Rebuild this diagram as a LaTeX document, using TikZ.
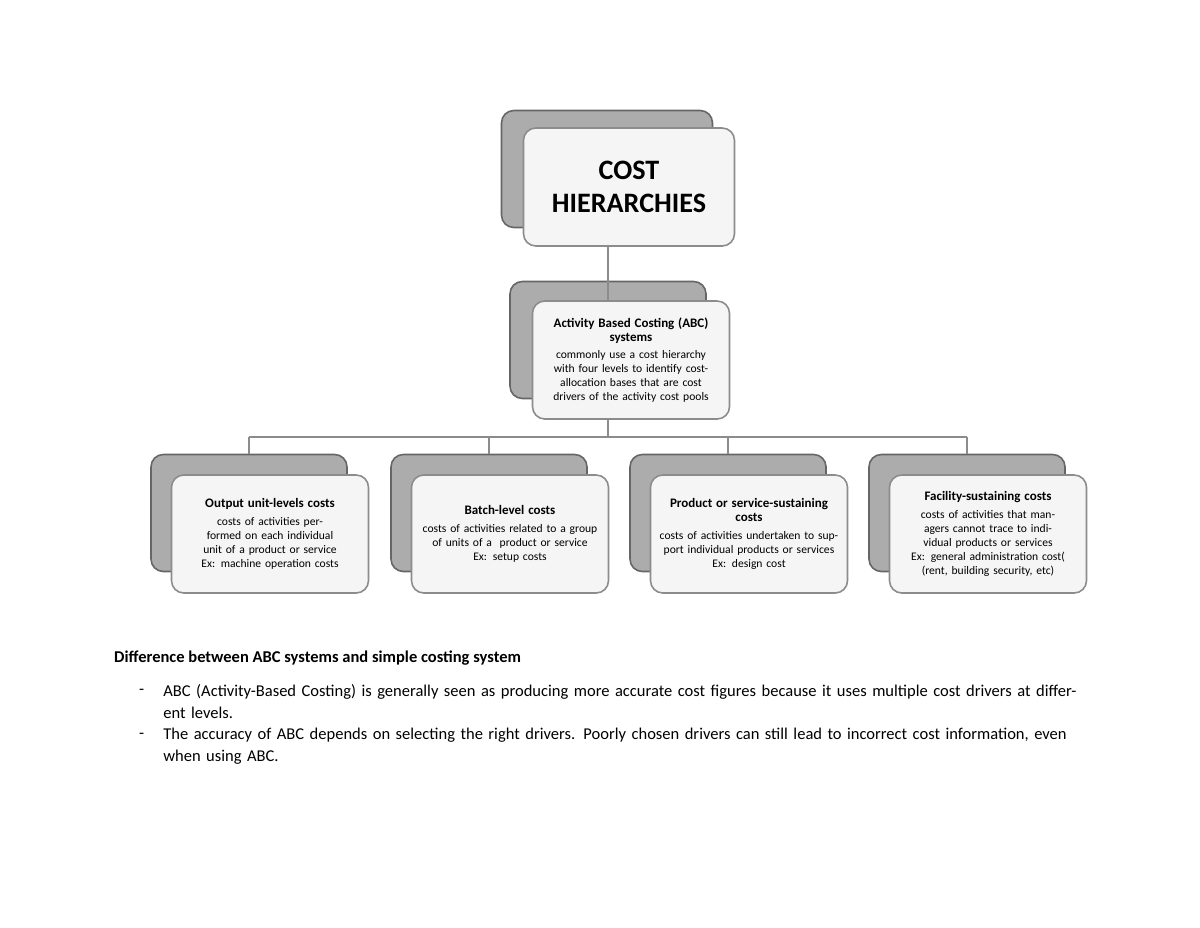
\documentclass[tikz,border=0pt]{standalone}
\usepackage{fontspec}
\setmainfont{Carlito}
\usetikzlibrary{positioning}
\tikzset{
  backbox/.style={draw=gray!80!black, fill=gray!65, rounded corners=7pt, line width=0.9pt,
    minimum width=196*0.02cm, minimum height=117*0.02cm},
  frontbox/.style={draw=gray!90, fill=gray!8, rounded corners=7pt, line width=0.9pt,
    minimum width=197*0.02cm, minimum height=118*0.02cm, align=center, text width=180*0.02cm,
    font=\fontsize{6.6}{8}\selectfont},
  link/.style={draw=gray!90, line width=1pt}
}
\newcommand{\boxtitle}[1]{{\fontsize{7.4}{8.6}\selectfont\bfseries #1}\\[2pt]}
\begin{document}
\begin{tikzpicture}[x=0.02cm, y=-0.02cm]
\useasboundingbox (0,0) rectangle (1200,927);
% top
\node[backbox, minimum width=211*0.02cm] (topback) at (607,169) {};
\node[frontbox, minimum width=211*0.02cm, text width=180*0.02cm, font=\fontsize{16}{19}\selectfont\bfseries] (top) at (629,187) {COST\\HIERARCHIES};
% middle
\node[backbox] (midback) at (608,340) {};
\node[frontbox] (mid) at (631,360) {\boxtitle{Activity Based Costing (ABC)\\systems}commonly use a cost hierarchy with four levels to identify cost-allocation bases that are cost drivers of the activity cost pools};
\draw[link] (top.south -| 608,0) -- (608,300);
% leaves
\foreach \n/\x/\t in {a/249/{\boxtitle{Output unit-levels costs}costs of activities performed on each individual unit of a product or service\\Ex: machine operation costs},
                      b/489/{\boxtitle{Batch-level costs}costs of activities related to a group of units of a\ \ product or service\\Ex: setup costs},
                      c/728/{\boxtitle{Product or service-sustaining\\costs}costs of activities undertaken to support individual products or services\\Ex: design cost},
                      d/967/{\boxtitle{Facility-sustaining costs}costs of activities that managers cannot trace to individual products or services\\Ex: general administration cost( (rent, building security, etc)}}{
  \node[backbox] (\n back) at (\x,513) {};
  \node[frontbox] (\n) at (\x+21,534) {\t};
  \draw[link] (\x,437) -- (\n back.north);
}
\draw[link] (mid.south -| 608,0) -- (608,437);
\draw[link] (249,437) -- (967,437);
% text below
\node[anchor=base west, font=\fontsize{9.4}{11}\selectfont\bfseries] (head) at (108,662) {Difference between ABC systems and simple costing system};
\foreach \y/\t in {694/{ABC (Activity-Based Costing) is generally seen as producing more accurate cost figures because it uses multiple cost drivers at different levels.},
                   738/{The accuracy of ABC depends on selecting the right drivers. Poorly chosen drivers can still lead to incorrect cost information, even when using ABC.}}{
  \node[anchor=base west, font=\fontsize{9.4}{12.4}\selectfont] at (133,\y) {-};
  \node[anchor=north west, inner sep=0pt, text width=930*0.02cm, align=left, font=\fontsize{9.4}{12.4}\selectfont] at (163,\y-10) {\t};
}
\end{tikzpicture}
\end{document}
